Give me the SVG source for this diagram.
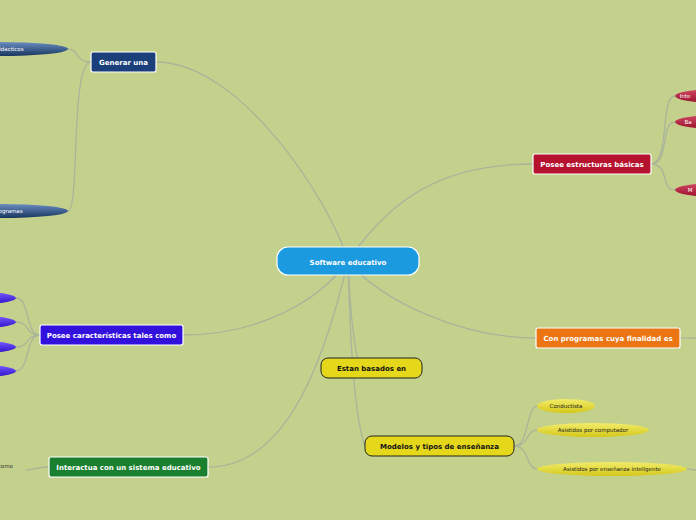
<svg xmlns="http://www.w3.org/2000/svg" width="696" height="520" viewBox="0 0 696 520">
<defs>
<style>
.c{fill:none;stroke:#a8b59a;stroke-width:1.3}
.t{font-family:"DejaVu Sans",sans-serif;font-weight:bold;font-size:7px;text-anchor:middle}
.s{font-family:"DejaVu Sans",sans-serif;font-size:5.5px;text-anchor:middle}
.box{stroke:#fff;stroke-width:1.2}
</style>
<linearGradient id="gb" x1="0" y1="0" x2="0" y2="1"><stop offset="0" stop-color="#6a8cc0"/><stop offset="1" stop-color="#17365f"/></linearGradient>
<linearGradient id="gr" x1="0" y1="0" x2="0" y2="1"><stop offset="0" stop-color="#d24a66"/><stop offset="1" stop-color="#9a0f2a"/></linearGradient>
<linearGradient id="gp" x1="0" y1="0" x2="0" y2="1"><stop offset="0" stop-color="#7a5cff"/><stop offset="1" stop-color="#2a0fc8"/></linearGradient>
<linearGradient id="gy" x1="0" y1="0" x2="0" y2="1"><stop offset="0" stop-color="#f2ec6a"/><stop offset="1" stop-color="#d4c81a"/></linearGradient>
</defs>
<rect width="696" height="520" fill="#c4d18c"/>
<g id="connectors">
<path class="c" d="M348 261 C330 200 240 62 156 62"/>
<path class="c" d="M348 261 C390 200 440 164 533 164"/>
<path class="c" d="M348 261 C320 300 260 335 183 335"/>
<path class="c" d="M348 261 C380 300 460 338 536 338"/>
<path class="c" d="M680 338 L696 338"/>
<path class="c" d="M348 261 C350 300 352 340 360 368"/>
<path class="c" d="M348 261 C350 340 355 420 365 446"/>
<path class="c" d="M348 261 C320 380 280 467 208 467"/>
<path class="c" d="M91 62 C75 62 80 50 68 49"/>
<path class="c" d="M91 62 C70 62 80 211 68 211"/>
<path class="c" d="M651 164 C670 164 660 96 675 96"/>
<path class="c" d="M651 164 C670 164 660 122 675 122"/>
<path class="c" d="M651 164 C670 164 660 190 675 190"/>
<path class="c" d="M40 335 C25 335 30 298 16 298"/>
<path class="c" d="M40 335 C25 335 30 322 16 322"/>
<path class="c" d="M40 335 C25 335 30 347 16 347"/>
<path class="c" d="M40 335 C25 335 30 371 16 371"/>
<path class="c" d="M514 446 C530 446 525 406 538 406"/>
<path class="c" d="M514 446 C530 446 525 430 538 430"/>
<path class="c" d="M514 446 C530 446 525 469 538 469"/>
<path class="c" d="M687 469 L696 470"/>
<path class="c" d="M49 467 C35 467 35 470 26 470"/>
</g>
<g id="central"><rect class="box" x="277" y="247" width="142" height="28" rx="11" fill="#1b9ae0" stroke-width="1.5"/><text class="t" x="348" y="264.5" fill="#fff" font-size="9">Software educativo</text></g>
<g id="generar"><rect class="box" x="91" y="52" width="65" height="20" rx="2" fill="#1a3f7a"/><text class="t" x="123.5" y="64.5" fill="#fff">Generar una</text></g>
<g id="gen1"><ellipse cx="0" cy="49" rx="68" ry="7" fill="url(#gb)"/><text class="s" x="3" y="51" text-anchor="start" fill="#fff">mas didacticos</text></g>
<g id="gen2"><ellipse cx="0" cy="211" rx="68" ry="7" fill="url(#gb)"/><text class="s" x="3" y="213" text-anchor="start" fill="#fff">los programas</text></g>
<g id="estructuras"><rect class="box" x="533" y="154" width="118" height="20" rx="2" fill="#b5122e"/><text class="t" x="592" y="166.5" fill="#fff">Posee estructuras básicas</text></g>
<g id="r1"><ellipse cx="720" cy="96" rx="45" ry="7" fill="url(#gr)"/><text class="s" x="685" y="98" text-anchor="start" fill="#fff">Inte</text></g>
<g id="r2"><ellipse cx="720" cy="122" rx="45" ry="7" fill="url(#gr)"/><text class="s" x="688" y="124" text-anchor="start" fill="#fff">Ba</text></g>
<g id="r3"><ellipse cx="720" cy="190" rx="45" ry="7" fill="url(#gr)"/><text class="s" x="690" y="192" text-anchor="start" fill="#fff">M</text></g>
<g id="caracteristicas"><rect class="box" x="40" y="325" width="143" height="20" rx="2" fill="#3311dd"/><text class="t" x="111.5" y="337.5" fill="#fff">Posee características tales como</text></g>
<g id="p1"><ellipse cx="-20" cy="298" rx="36" ry="6" fill="url(#gp)"/></g>
<g id="p2"><ellipse cx="-20" cy="322" rx="36" ry="6" fill="url(#gp)"/></g>
<g id="p3"><ellipse cx="-20" cy="347" rx="36" ry="6" fill="url(#gp)"/></g>
<g id="p4"><ellipse cx="-20" cy="371" rx="36" ry="6" fill="url(#gp)"/></g>
<g id="finalidad"><rect class="box" x="536" y="328" width="144" height="20" rx="2" fill="#ea7512"/><text class="t" x="608" y="340.5" fill="#fff">Con programas cuya finalidad es</text></g>
<g id="basados"><rect x="321" y="358" width="101" height="20" rx="7" fill="#e5d81a" stroke="#222" stroke-width="1"/><text class="t" x="371.5" y="370.5" fill="#111">Estan basados en</text></g>
<g id="modelos"><rect x="365" y="436" width="149" height="20" rx="7" fill="#e5d81a" stroke="#222" stroke-width="1"/><text class="t" x="439.5" y="448.5" fill="#111">Modelos y tipos de enseñanza</text></g>
<g id="y1"><ellipse cx="566" cy="406" rx="29" ry="7" fill="url(#gy)"/><text class="s" x="566" y="408" fill="#222">Conductista</text></g>
<g id="y2"><ellipse cx="593" cy="430" rx="56" ry="7" fill="url(#gy)"/><text class="s" x="593" y="432" fill="#222">Asistidos por computador</text></g>
<g id="y3"><ellipse cx="612" cy="469" rx="75" ry="7" fill="url(#gy)"/><text class="s" x="612" y="471" fill="#222">Asistidos por enseñanza inteligente</text></g>
<g id="interactua"><rect class="box" x="49" y="457" width="159" height="20" rx="2" fill="#1a8030"/><text class="t" x="128.5" y="469.5" fill="#fff">Interactua con un sistema educativo</text></g>
<g id="g1"><text class="s" x="3" y="468" text-anchor="start" fill="#333">s como</text></g>
</svg>
